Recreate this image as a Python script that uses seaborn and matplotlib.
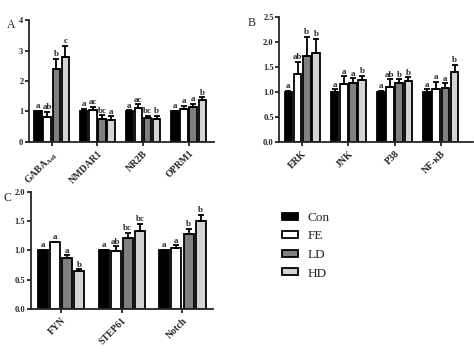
import matplotlib
matplotlib.use("Agg")
import matplotlib.pyplot as plt
from matplotlib.patches import Patch
import seaborn as sns
import pandas as pd

groups = ["Con", "FE", "LD", "HD"]
colors = ["#000000", "#ffffff", "#808080", "#d4d4d4"]

# panel A
genes_a = [r"GABA$_{\mathrm{A\alpha1}}$", "NMDAR1", "NR2B", "OPRM1"]
vals_a = {"Con": [1.0, 1.0, 1.0, 1.0],
          "FE": [0.82, 1.04, 1.10, 1.09],
          "LD": [2.40, 0.75, 0.77, 1.15],
          "HD": [2.78, 0.73, 0.76, 1.38]}
err_a = {"Con": [0.03, 0.08, 0.04, 0.03],
         "FE": [0.16, 0.12, 0.14, 0.09],
         "LD": [0.33, 0.13, 0.09, 0.10],
         "HD": [0.37, 0.11, 0.10, 0.09]}
let_a = {"Con": ["a", "a", "a", "a"],
         "FE": ["ab", "ac", "ac", "a"],
         "LD": ["b", "bc", "bc", "a"],
         "HD": ["c", "a", "b", "b"]}

# panel B
genes_b = ["ERK", "JNK", "P38", "NF-κB"]
vals_b = {"Con": [1.0, 1.0, 1.0, 1.0],
          "FE": [1.36, 1.15, 1.10, 1.05],
          "LD": [1.71, 1.17, 1.17, 1.07],
          "HD": [1.78, 1.23, 1.21, 1.39]}
err_b = {"Con": [0.02, 0.05, 0.02, 0.05],
         "FE": [0.24, 0.16, 0.15, 0.15],
         "LD": [0.39, 0.10, 0.08, 0.10],
         "HD": [0.28, 0.09, 0.08, 0.15]}
let_b = {"Con": ["a", "a", "a", "a"],
         "FE": ["ab", "a", "ab", "a"],
         "LD": ["b", "a", "b", "a"],
         "HD": ["b", "b", "b", "b"]}

# panel C
genes_c = ["FYN", "STEP61", "Notch"]
vals_c = {"Con": [1.0, 1.0, 1.0],
          "FE": [1.14, 0.99, 1.04],
          "LD": [0.87, 1.21, 1.29],
          "HD": [0.64, 1.33, 1.51]}
err_c = {"Con": [0.01, 0.01, 0.01],
         "FE": [0.01, 0.08, 0.05],
         "LD": [0.05, 0.09, 0.08],
         "HD": [0.04, 0.13, 0.10]}
let_c = {"Con": ["a", "a", "a"],
         "FE": ["a", "ab", "a"],
         "LD": ["a", "bc", "b"],
         "HD": ["b", "bc", "b"]}

sns.set_style("ticks")
plt.rcParams["font.family"] = ["Liberation Serif", "DejaVu Serif"]
plt.rcParams["mathtext.fontset"] = "custom"
plt.rcParams["mathtext.rm"] = "Liberation Serif:bold"
plt.rcParams["mathtext.it"] = "Liberation Serif:bold"
plt.rcParams["mathtext.bf"] = "Liberation Serif:bold"

fig = plt.figure(figsize=(4.74, 3.53), dpi=100)
ax_a = fig.add_axes([0.061, 0.598, 0.390, 0.345])
ax_b = fig.add_axes([0.589, 0.598, 0.409, 0.354])
ax_c = fig.add_axes([0.065, 0.125, 0.384, 0.331])


def panel(ax, genes, vals, errs, lets, ymax, step, xmax, tag, tagpos):
    rows = []
    for g in groups:
        for gene, v in zip(genes, vals[g]):
            rows.append({"gene": gene, "group": g, "value": v})
    df = pd.DataFrame(rows)
    sns.barplot(data=df, x="gene", y="value", hue="group", hue_order=groups,
                palette=dict(zip(groups, colors)), edgecolor="black",
                linewidth=1.3, width=0.8, gap=0.18, errorbar=None,
                legend=False, ax=ax)
    for i, g in enumerate(groups):
        bars = ax.containers[i]
        xs = [b.get_x() + b.get_width() / 2 for b in bars]
        ax.errorbar(xs, vals[g], yerr=[[0] * len(xs), errs[g]], fmt="none",
                    ecolor="black", elinewidth=1.3, capsize=2.5, capthick=1.3)
        for x, v, e, t in zip(xs, vals[g], errs[g], lets[g]):
            ax.text(x, v + e + ymax * 0.005, t, ha="center", va="bottom",
                    fontsize=6.5, fontweight="bold")
    ax.set_ylim(0, ymax)
    ax.set_xlim(-0.5, xmax)
    ticks = [round(step * k, 2) for k in range(int(round(ymax / step)) + 1)]
    ax.set_yticks(ticks)
    if step < 1:
        ax.set_yticklabels([f"{t:.1f}" for t in ticks])
    ax.set_xlabel("")
    ax.set_ylabel("")
    sns.despine(ax=ax)
    for s in ["left", "bottom"]:
        ax.spines[s].set_linewidth(1.3)
    ax.tick_params(axis="both", width=1.3, length=3, pad=1, labelsize=6)
    for lab in ax.get_yticklabels():
        lab.set_fontweight("bold")
    for lab in ax.get_xticklabels():
        lab.set_fontweight("bold")
        lab.set_rotation(45)
        lab.set_ha("right")
        lab.set_rotation_mode("anchor")
    ax.tick_params(axis="x", labelsize=7, pad=2)
    fig.text(tagpos[0], tagpos[1], tag, fontsize=8.5, ha="left", va="center")


panel(ax_a, genes_a, vals_a, err_a, let_a, 4, 1, 3.55, "A", (0.014, 0.928))
panel(ax_b, genes_b, vals_b, err_b, let_b, 2.5, 0.5, 3.7, "B", (0.522, 0.935))
panel(ax_c, genes_c, vals_c, err_c, let_c, 2.0, 0.5, 2.5, "C", (0.008, 0.438))

handles = [Patch(facecolor=c, edgecolor="black", linewidth=1.3, label=g)
           for g, c in zip(groups, colors)]
fig.legend(handles=handles, loc="upper left", bbox_to_anchor=(0.583, 0.415),
           frameon=False, fontsize=9.5, handlelength=1.25, handleheight=0.45,
           handletextpad=0.7, labelspacing=0.5, borderaxespad=0)

fig.savefig("out.png", dpi=100)
